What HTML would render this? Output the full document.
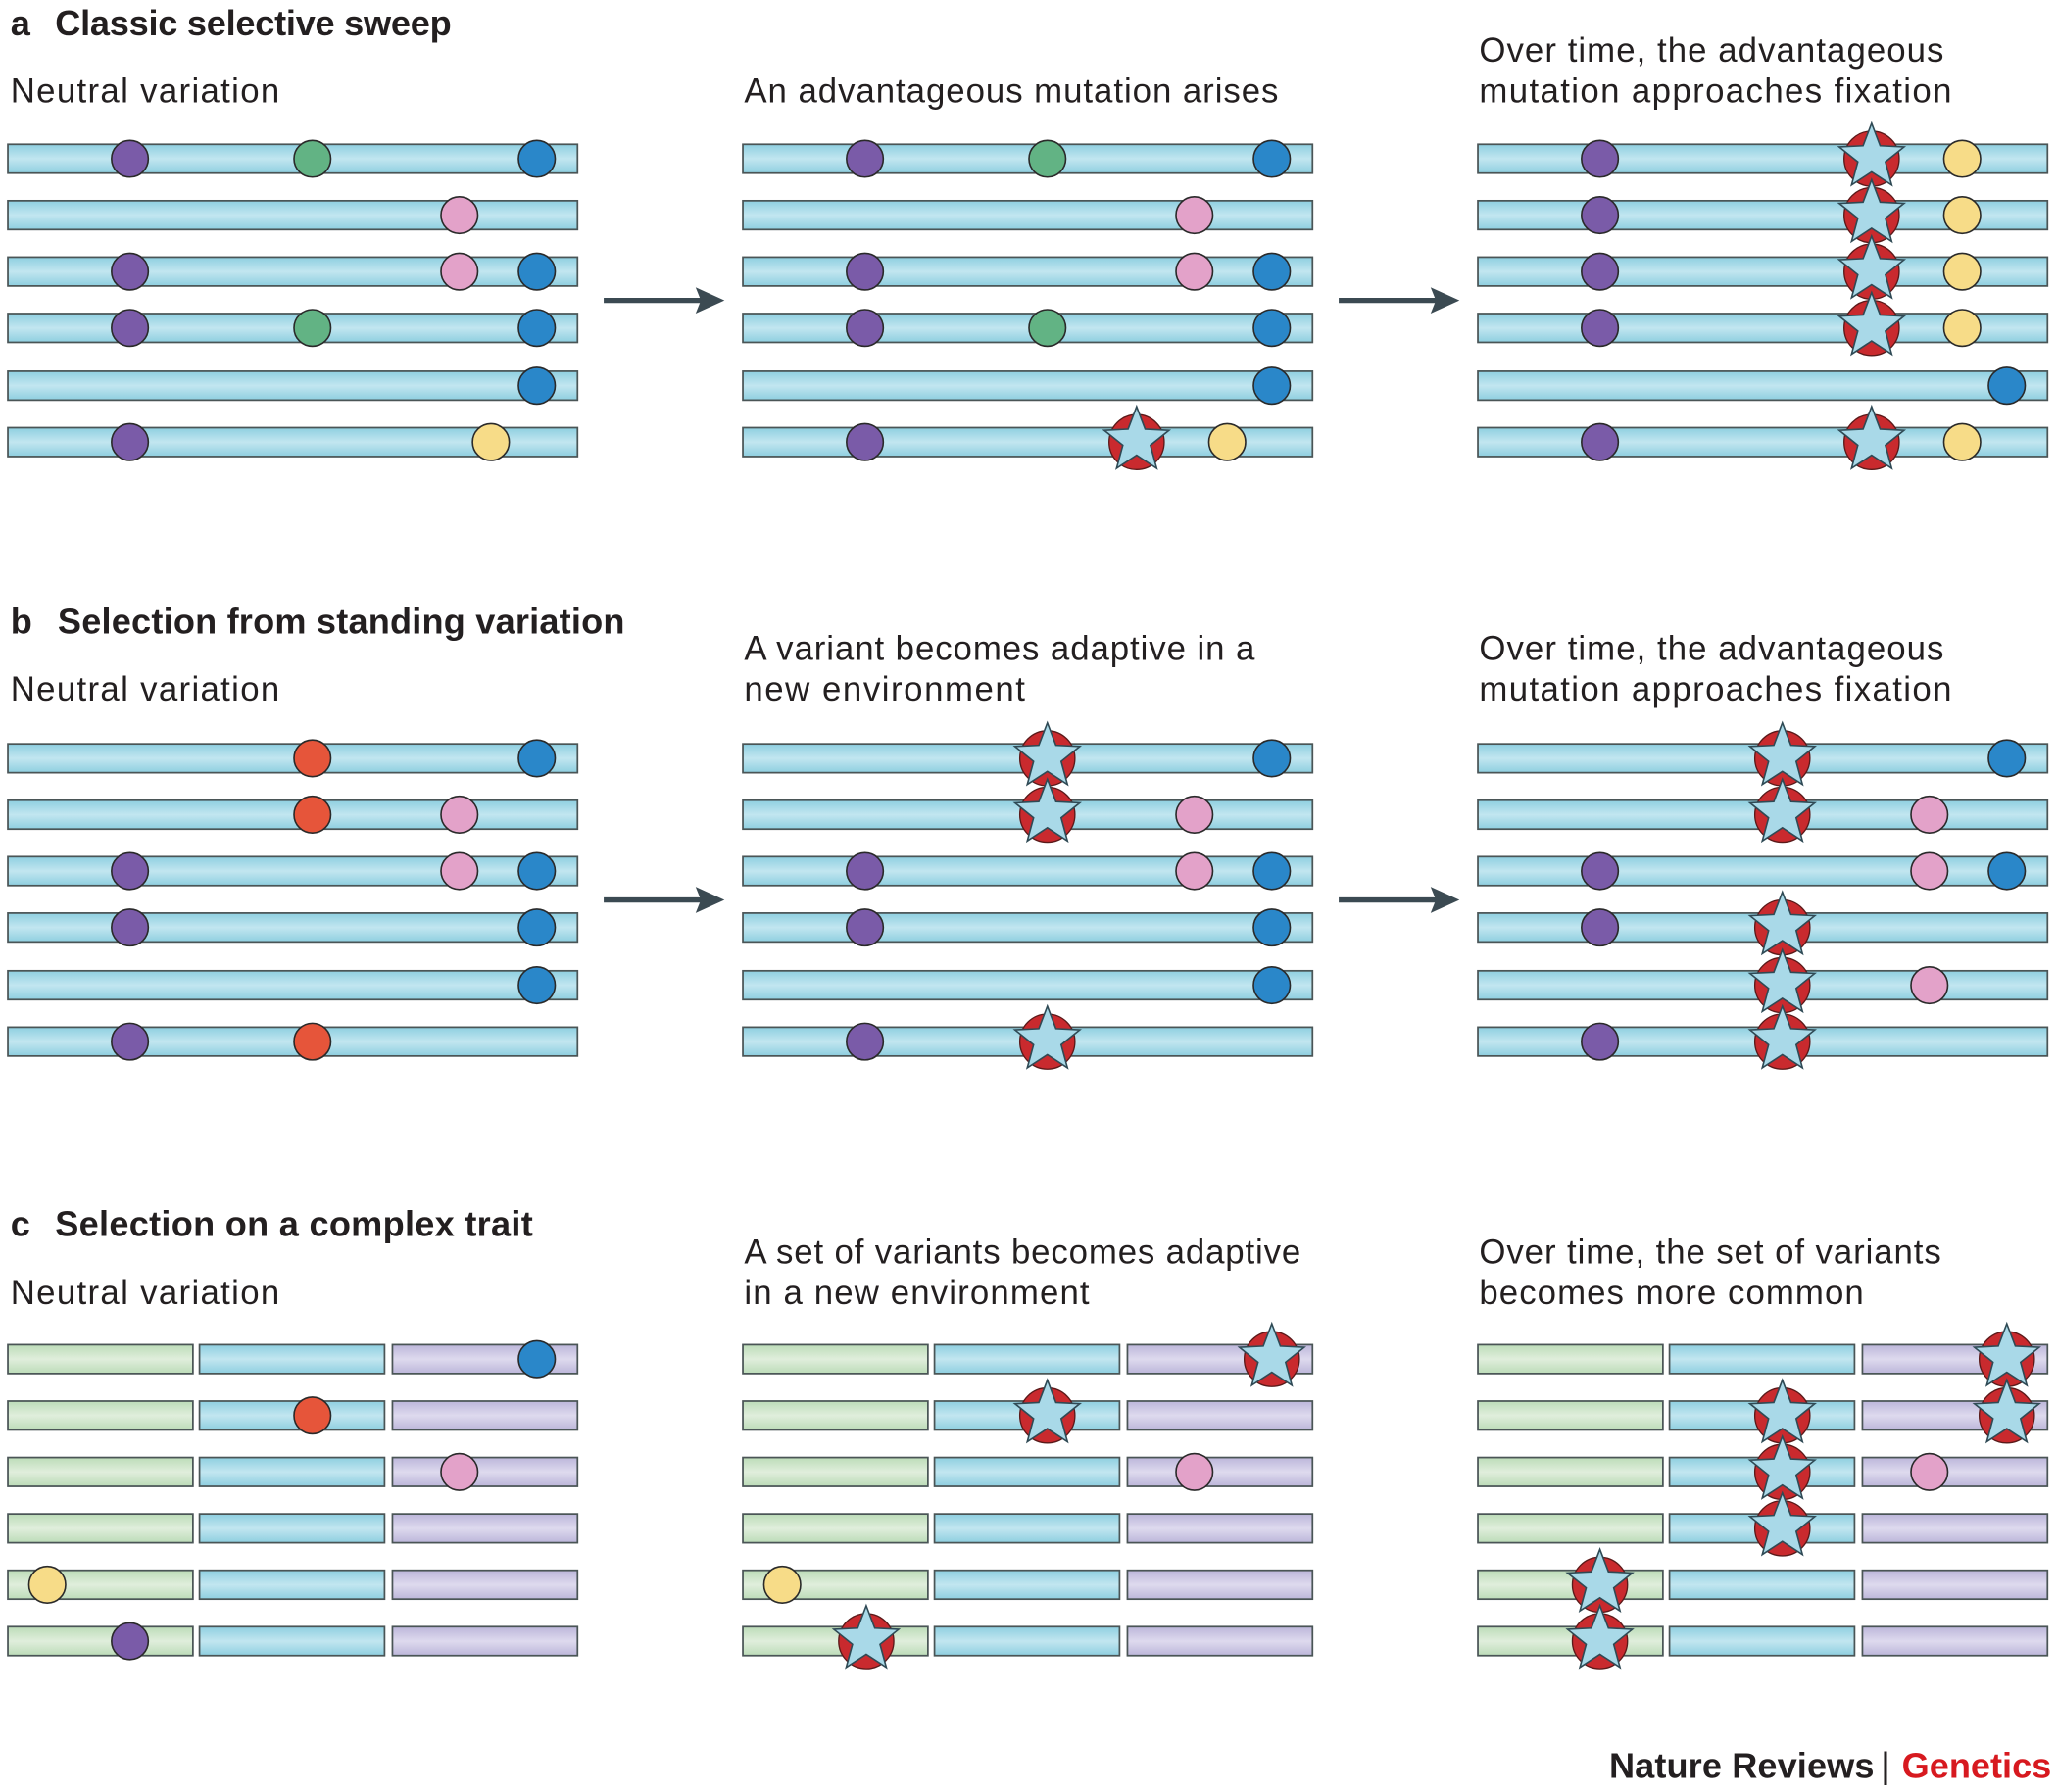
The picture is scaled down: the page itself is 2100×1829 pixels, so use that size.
<!DOCTYPE html>
<html><head><meta charset="utf-8"><style>
html,body{margin:0;padding:0;background:#fff;}
svg{display:block;}
text{font-family:"Liberation Sans",sans-serif;fill:#231f20;}
</style></head><body>
<svg id="fig" width="2100" height="1829" viewBox="0 0 1568 1366" preserveAspectRatio="none" xmlns="http://www.w3.org/2000/svg">
<defs>
<linearGradient id="gBlue" x1="0" y1="0" x2="0" y2="1"><stop offset="0" stop-color="#8ecfe0"/><stop offset="0.5" stop-color="#c2e6f0"/><stop offset="1" stop-color="#8ecfe0"/></linearGradient>
<linearGradient id="gGreen" x1="0" y1="0" x2="0" y2="1"><stop offset="0" stop-color="#bcdcb8"/><stop offset="0.5" stop-color="#e0eedc"/><stop offset="1" stop-color="#bcdcb8"/></linearGradient>
<linearGradient id="gPurple" x1="0" y1="0" x2="0" y2="1"><stop offset="0" stop-color="#bcb6da"/><stop offset="0.5" stop-color="#dedaee"/><stop offset="1" stop-color="#bcb6da"/></linearGradient>
</defs>
<g><text x="8" y="27" font-size="27" font-weight="bold">a</text><text x="42" y="27" font-size="27" font-weight="bold" textLength="302">Classic selective sweep</text></g>
<text x="8" y="78" font-size="26" textLength="205">Neutral variation</text>
<text x="567" y="78" font-size="26" textLength="407">An advantageous mutation arises</text>
<text x="1127" y="47" font-size="26" textLength="354">Over time, the advantageous</text>
<text x="1127" y="78" font-size="26" textLength="360">mutation approaches fixation</text>
<g><text x="8" y="483" font-size="27" font-weight="bold">b</text><text x="44" y="483" font-size="27" font-weight="bold" textLength="432">Selection from standing variation</text></g>
<text x="8" y="534" font-size="26" textLength="205">Neutral variation</text>
<text x="567" y="503" font-size="26" textLength="389">A variant becomes adaptive in a</text>
<text x="567" y="534" font-size="26" textLength="214">new environment</text>
<text x="1127" y="503" font-size="26" textLength="354">Over time, the advantageous</text>
<text x="1127" y="534" font-size="26" textLength="360">mutation approaches fixation</text>
<g><text x="8" y="942" font-size="27" font-weight="bold">c</text><text x="42" y="942" font-size="27" font-weight="bold" textLength="364">Selection on a complex trait</text></g>
<text x="8" y="994" font-size="26" textLength="205">Neutral variation</text>
<text x="567" y="963" font-size="26" textLength="424">A set of variants becomes adaptive</text>
<text x="567" y="994" font-size="26" textLength="263">in a new environment</text>
<text x="1127" y="963" font-size="26" textLength="352">Over time, the set of variants</text>
<text x="1127" y="994" font-size="26" textLength="293">becomes more common</text>
<g><text x="1226" y="1355" font-size="27" font-weight="bold" textLength="202">Nature Reviews</text><text x="1433" y="1355" font-size="28">|</text><text x="1449" y="1355" font-size="27" font-weight="bold" style="fill:#d7191f" textLength="114">Genetics</text></g>
<g id="marks"></g>
</svg>
<script>
// column offsets and row positions per panel
const colOffsets = [0, 560, 1120];
const panelRowY = {a:[121,164,207,250,294,337], b:[578,621,664,707,751,794], c:[1036,1079,1122,1165,1208,1251]};
// marks: [type, x] ; P purple, G green, B blue, K pink, Y yellow, R red, S star
const panelA = [
 [[['P',99],['G',238],['B',409]],[['K',350]],[['P',99],['K',350],['B',409]],[['P',99],['G',238],['B',409]],[['B',409]],[['P',99],['Y',374]]],
 [[['P',99],['G',238],['B',409]],[['K',350]],[['P',99],['K',350],['B',409]],[['P',99],['G',238],['B',409]],[['B',409]],[['P',99],['Y',375],['S',306]]],
 [[['P',99],['Y',375],['S',306]],[['P',99],['Y',375],['S',306]],[['P',99],['Y',375],['S',306]],[['P',99],['Y',375],['S',306]],[['B',409]],[['P',99],['Y',375],['S',306]]]
];
const panelB = [
 [[['R',238],['B',409]],[['R',238],['K',350]],[['P',99],['K',350],['B',409]],[['P',99],['B',409]],[['B',409]],[['P',99],['R',238]]],
 [[['B',409],['S',238]],[['K',350],['S',238]],[['P',99],['K',350],['B',409]],[['P',99],['B',409]],[['B',409]],[['P',99],['S',238]]],
 [[['B',409],['S',238]],[['K',350],['S',238]],[['P',99],['K',350],['B',409]],[['P',99],['S',238]],[['K',350],['S',238]],[['P',99],['S',238]]]
];
const panelC = [
 [[['B',409]],[['R',238]],[['K',350]],[],[['Y',36]],[['P',99]]],
 [[['S',409]],[['S',238]],[['K',350]],[],[['Y',36]],[['S',100]]],
 [[['S',409]],[['S',238],['S',409]],[['K',350],['S',238]],[['S',238]],[['S',99]],[['S',99]]]
];
const dotColors = {P:'#7a5ba8',G:'#62b384',B:'#2a87c9',K:'#e3a2c9',Y:'#f7dc88',R:'#e6553a'};
const dotNames = {P:'purple-variant',G:'green-variant',B:'blue-variant',K:'pink-variant',Y:'yellow-variant',R:'red-variant'};
const NS='http://www.w3.org/2000/svg';
const g=document.getElementById('marks');
function mk(tag,attrs,parent){const e=document.createElementNS(NS,tag);for(const k in attrs)e.setAttribute(k,attrs[k]);(parent||g).appendChild(e);return e;}
function starPts(cx,cy,R,r){let p=[];for(let i=0;i<10;i++){const a=-Math.PI/2+i*Math.PI/5;const rr=i%2?r:R;p.push((cx+rr*Math.cos(a)).toFixed(1)+','+(cy+rr*Math.sin(a)).toFixed(1));}return p.join(' ');}
function drawPanel(key,data,segmented){
 const ys=panelRowY[key];
 data.forEach((col,ci)=>{
  const ox=6+colOffsets[ci];
  col.forEach((row,ri)=>{
   const y=ys[ri];
   if(segmented){
    const fills=['url(#gGreen)','url(#gBlue)','url(#gPurple)'];
    [0,146,293].forEach((sx,si)=>{
     const r=mk('rect',{x:ox+sx,y:y-11,width:141,height:22,fill:fills[si],stroke:'#4a5556','stroke-width':1.3});
     
     
    });
   } else {
    const r=mk('rect',{x:ox,y:y-11,width:434,height:22,fill:'url(#gBlue)',stroke:'#4a5556','stroke-width':1.3});
    
    
   }
  });
 });
 data.forEach((col,ci)=>{
  const ox=colOffsets[ci];
  col.forEach((row,ri)=>{
   const y=ys[ri];
   row.forEach(m=>{
    const x=ox+m[1];
    if(m[0]==='S'){
     const sg=mk('g',{});
     
     
     mk('circle',{cx:x,cy:y,r:21,fill:'#c92a2e',stroke:'#5a1a1a','stroke-width':1},sg);
     mk('polygon',{points:starPts(x,y-1,26,11),fill:'#a9d9e8',stroke:'#2f4a55','stroke-width':1.2},sg);
    } else {
     const c=mk('circle',{cx:x,cy:y,r:14,fill:dotColors[m[0]],stroke:'#2a2a2a','stroke-width':1.2});
     
     
    }
   });
  });
 });
}
drawPanel('a',panelA,false);
drawPanel('b',panelB,false);
drawPanel('c',panelC,true);
const arrowYs=[229,686];
arrowYs.forEach(y=>{
 [460,1020].forEach(x=>{
  const ag=mk('g',{});
  
  
  mk('line',{x1:x,y1:y,x2:x+76,y2:y,stroke:'#3b4a52','stroke-width':4},ag);
  mk('polygon',{points:(x+92)+','+y+' '+(x+70)+','+(y-10)+' '+(x+74)+','+y+' '+(x+70)+','+(y+10),fill:'#3b4a52'},ag);
 });
});
</script>
</body></html>
